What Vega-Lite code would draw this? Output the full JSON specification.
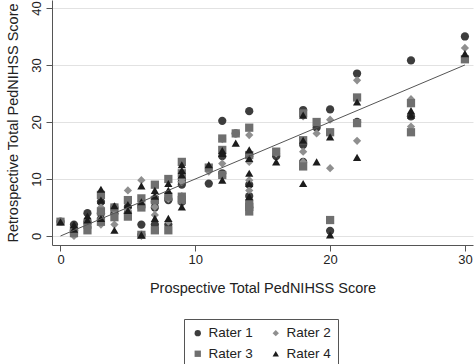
{
  "$schema": "https://vega.github.io/schema/vega-lite/v6.json",
  "width": 421,
  "height": 245,
  "autosize": {"type": "none"},
  "padding": {"left": 52, "top": 0, "right": 1, "bottom": 119},
  "background": "white",
  "config": {"view": {"stroke": null}, "font": "Liberation Sans"},
  "datasets": {
    "pts": [
      {"x":0,"y":2.5,"r":"Rater 1"},{"x":1,"y":1,"r":"Rater 1"},{"x":1,"y":2,"r":"Rater 1"},{"x":2,"y":4,"r":"Rater 1"},{"x":2,"y":2.5,"r":"Rater 1"},{"x":3,"y":6,"r":"Rater 1"},{"x":3,"y":4,"r":"Rater 1"},{"x":3,"y":3,"r":"Rater 1"},{"x":4,"y":4,"r":"Rater 1"},{"x":4,"y":5,"r":"Rater 1"},{"x":5,"y":5.1,"r":"Rater 1"},{"x":5,"y":4,"r":"Rater 1"},{"x":6,"y":5.1,"r":"Rater 1"},{"x":6,"y":2,"r":"Rater 1"},{"x":6,"y":0.2,"r":"Rater 1"},{"x":7,"y":6,"r":"Rater 1"},{"x":7,"y":5,"r":"Rater 1"},{"x":7,"y":2,"r":"Rater 1"},{"x":8,"y":6.3,"r":"Rater 1"},{"x":8,"y":6.5,"r":"Rater 1"},{"x":8,"y":2,"r":"Rater 1"},{"x":9,"y":10,"r":"Rater 1"},{"x":9,"y":9.5,"r":"Rater 1"},{"x":9,"y":6,"r":"Rater 1"},{"x":9,"y":9,"r":"Rater 1"},{"x":11,"y":9.2,"r":"Rater 1"},{"x":12,"y":20.2,"r":"Rater 1"},{"x":12,"y":14,"r":"Rater 1"},{"x":12,"y":11,"r":"Rater 1"},{"x":13,"y":18,"r":"Rater 1"},{"x":14,"y":21.9,"r":"Rater 1"},{"x":14,"y":14,"r":"Rater 1"},{"x":14,"y":9,"r":"Rater 1"},{"x":14,"y":7,"r":"Rater 1"},{"x":14,"y":5,"r":"Rater 1"},{"x":16,"y":14,"r":"Rater 1"},{"x":18,"y":22.1,"r":"Rater 1"},{"x":18,"y":16,"r":"Rater 1"},{"x":18,"y":13,"r":"Rater 1"},{"x":19,"y":19,"r":"Rater 1"},{"x":20,"y":22.2,"r":"Rater 1"},{"x":20,"y":0.9,"r":"Rater 1"},{"x":22,"y":28.5,"r":"Rater 1"},{"x":22,"y":20,"r":"Rater 1"},{"x":26,"y":30.8,"r":"Rater 1"},{"x":26,"y":21,"r":"Rater 1"},{"x":30,"y":35,"r":"Rater 1"},
      {"x":0,"y":2.5,"r":"Rater 2"},{"x":1,"y":0,"r":"Rater 2"},{"x":1,"y":1.5,"r":"Rater 2"},{"x":2,"y":2,"r":"Rater 2"},{"x":2,"y":3,"r":"Rater 2"},{"x":3,"y":5,"r":"Rater 2"},{"x":3,"y":3,"r":"Rater 2"},{"x":3,"y":2,"r":"Rater 2"},{"x":4,"y":2,"r":"Rater 2"},{"x":4,"y":4.5,"r":"Rater 2"},{"x":5,"y":8,"r":"Rater 2"},{"x":5,"y":4.5,"r":"Rater 2"},{"x":6,"y":9.8,"r":"Rater 2"},{"x":6,"y":5.5,"r":"Rater 2"},{"x":6,"y":0,"r":"Rater 2"},{"x":7,"y":6.9,"r":"Rater 2"},{"x":7,"y":5.1,"r":"Rater 2"},{"x":7,"y":3.7,"r":"Rater 2"},{"x":8,"y":7,"r":"Rater 2"},{"x":8,"y":6.5,"r":"Rater 2"},{"x":8,"y":2.5,"r":"Rater 2"},{"x":9,"y":11,"r":"Rater 2"},{"x":9,"y":10,"r":"Rater 2"},{"x":9,"y":7,"r":"Rater 2"},{"x":9,"y":9.5,"r":"Rater 2"},{"x":11,"y":11.3,"r":"Rater 2"},{"x":12,"y":17,"r":"Rater 2"},{"x":12,"y":12.7,"r":"Rater 2"},{"x":12,"y":10.5,"r":"Rater 2"},{"x":13,"y":18,"r":"Rater 2"},{"x":14,"y":17.7,"r":"Rater 2"},{"x":14,"y":13,"r":"Rater 2"},{"x":14,"y":9.8,"r":"Rater 2"},{"x":14,"y":8,"r":"Rater 2"},{"x":14,"y":4.5,"r":"Rater 2"},{"x":16,"y":14.5,"r":"Rater 2"},{"x":18,"y":21,"r":"Rater 2"},{"x":18,"y":14.8,"r":"Rater 2"},{"x":18,"y":13,"r":"Rater 2"},{"x":19,"y":18,"r":"Rater 2"},{"x":20,"y":20.4,"r":"Rater 2"},{"x":20,"y":11.9,"r":"Rater 2"},{"x":22,"y":27.3,"r":"Rater 2"},{"x":22,"y":16.7,"r":"Rater 2"},{"x":26,"y":24,"r":"Rater 2"},{"x":26,"y":19.2,"r":"Rater 2"},{"x":30,"y":33,"r":"Rater 2"},
      {"x":0,"y":2.5,"r":"Rater 3"},{"x":1,"y":0.5,"r":"Rater 3"},{"x":1,"y":1,"r":"Rater 3"},{"x":2,"y":1,"r":"Rater 3"},{"x":2,"y":2,"r":"Rater 3"},{"x":3,"y":7.2,"r":"Rater 3"},{"x":3,"y":4.3,"r":"Rater 3"},{"x":3,"y":2.5,"r":"Rater 3"},{"x":4,"y":3.3,"r":"Rater 3"},{"x":4,"y":5,"r":"Rater 3"},{"x":5,"y":6.3,"r":"Rater 3"},{"x":5,"y":3.4,"r":"Rater 3"},{"x":6,"y":6.6,"r":"Rater 3"},{"x":6,"y":5,"r":"Rater 3"},{"x":6,"y":0.2,"r":"Rater 3"},{"x":7,"y":9,"r":"Rater 3"},{"x":7,"y":6.3,"r":"Rater 3"},{"x":7,"y":1,"r":"Rater 3"},{"x":8,"y":10,"r":"Rater 3"},{"x":8,"y":6.9,"r":"Rater 3"},{"x":8,"y":1,"r":"Rater 3"},{"x":9,"y":13,"r":"Rater 3"},{"x":9,"y":11,"r":"Rater 3"},{"x":9,"y":6.9,"r":"Rater 3"},{"x":9,"y":6.3,"r":"Rater 3"},{"x":11,"y":12,"r":"Rater 3"},{"x":12,"y":17.1,"r":"Rater 3"},{"x":12,"y":15.1,"r":"Rater 3"},{"x":12,"y":10.7,"r":"Rater 3"},{"x":13,"y":18,"r":"Rater 3"},{"x":14,"y":19,"r":"Rater 3"},{"x":14,"y":14.2,"r":"Rater 3"},{"x":14,"y":5.1,"r":"Rater 3"},{"x":14,"y":5.7,"r":"Rater 3"},{"x":14,"y":4.3,"r":"Rater 3"},{"x":16,"y":14.8,"r":"Rater 3"},{"x":18,"y":21.5,"r":"Rater 3"},{"x":18,"y":16.8,"r":"Rater 3"},{"x":18,"y":12.2,"r":"Rater 3"},{"x":19,"y":20,"r":"Rater 3"},{"x":20,"y":18.2,"r":"Rater 3"},{"x":20,"y":2.8,"r":"Rater 3"},{"x":22,"y":24.3,"r":"Rater 3"},{"x":22,"y":19.8,"r":"Rater 3"},{"x":26,"y":23.3,"r":"Rater 3"},{"x":26,"y":18.2,"r":"Rater 3"},{"x":30,"y":31,"r":"Rater 3"},
      {"x":0,"y":2.5,"r":"Rater 4"},{"x":1,"y":2,"r":"Rater 4"},{"x":1,"y":1.2,"r":"Rater 4"},{"x":2,"y":2.8,"r":"Rater 4"},{"x":2,"y":3.5,"r":"Rater 4"},{"x":3,"y":8.2,"r":"Rater 4"},{"x":3,"y":6.3,"r":"Rater 4"},{"x":3,"y":3.1,"r":"Rater 4"},{"x":4,"y":1,"r":"Rater 4"},{"x":4,"y":5.3,"r":"Rater 4"},{"x":5,"y":4.5,"r":"Rater 4"},{"x":5,"y":5.5,"r":"Rater 4"},{"x":6,"y":8.8,"r":"Rater 4"},{"x":6,"y":6,"r":"Rater 4"},{"x":6,"y":0.2,"r":"Rater 4"},{"x":7,"y":8,"r":"Rater 4"},{"x":7,"y":7,"r":"Rater 4"},{"x":7,"y":3.1,"r":"Rater 4"},{"x":8,"y":9.2,"r":"Rater 4"},{"x":8,"y":8,"r":"Rater 4"},{"x":8,"y":3.1,"r":"Rater 4"},{"x":9,"y":12.5,"r":"Rater 4"},{"x":9,"y":11.5,"r":"Rater 4"},{"x":9,"y":5.1,"r":"Rater 4"},{"x":9,"y":10.7,"r":"Rater 4"},{"x":11,"y":12.5,"r":"Rater 4"},{"x":12,"y":15,"r":"Rater 4"},{"x":12,"y":14.5,"r":"Rater 4"},{"x":12,"y":9.8,"r":"Rater 4"},{"x":13,"y":16.3,"r":"Rater 4"},{"x":14,"y":15.1,"r":"Rater 4"},{"x":14,"y":13.6,"r":"Rater 4"},{"x":14,"y":11,"r":"Rater 4"},{"x":14,"y":9.2,"r":"Rater 4"},{"x":14,"y":6.9,"r":"Rater 4"},{"x":16,"y":13,"r":"Rater 4"},{"x":18,"y":21.2,"r":"Rater 4"},{"x":18,"y":16.8,"r":"Rater 4"},{"x":18,"y":9.2,"r":"Rater 4"},{"x":19,"y":13,"r":"Rater 4"},{"x":20,"y":17.4,"r":"Rater 4"},{"x":20,"y":0.2,"r":"Rater 4"},{"x":22,"y":23.5,"r":"Rater 4"},{"x":22,"y":13.8,"r":"Rater 4"},{"x":26,"y":22,"r":"Rater 4"},{"x":26,"y":21.2,"r":"Rater 4"},{"x":30,"y":32,"r":"Rater 4"}
    ],
    "fit": [{"x": 0, "y": 0}, {"x": 30, "y": 30}]
  },
  "layer": [
    {
      "data": {"name": "pts"},
      "mark": {"type": "point", "filled": true, "opacity": 1, "size": 68},
      "encoding": {
        "x": {
          "field": "x", "type": "quantitative",
          "title": "Prospective Total PedNIHSS Score",
          "scale": {"domain": [-0.63, 30.6], "nice": false, "zero": false},
          "axis": {"values": [0, 10, 20, 30], "grid": false, "titleFontSize": 14.5, "titleFontWeight": "normal", "titleColor": "#222", "titlePadding": 15, "labelFontSize": 13, "labelColor": "#222", "labelPadding": 2, "tickSize": 6, "tickColor": "#555", "domainColor": "#555"}
        },
        "y": {
          "field": "y", "type": "quantitative",
          "title": "Retrospective Total PedNIHSS Score",
          "scale": {"domain": [-1.58, 41.4], "nice": false, "zero": false},
          "axis": {"values": [0, 10, 20, 30, 40], "grid": true, "gridColor": "#e2e2e2", "labelAngle": -90, "labelAlign": "center", "labelBaseline": "bottom", "titleFontSize": 14.5, "titleFontWeight": "normal", "titleColor": "#222", "titlePadding": 10, "labelFontSize": 13, "labelColor": "#222", "labelPadding": 3, "tickSize": 6, "tickColor": "#555", "domainColor": "#555"}
        },
        "color": {
          "field": "r", "type": "nominal",
          "scale": {"domain": ["Rater 1", "Rater 2", "Rater 3", "Rater 4"], "range": ["#3d3d3d", "#8f8f8f", "#6f6f6f", "#1c1c1c"]},
          "legend": {"title": null, "orient": "none", "direction": "horizontal", "legendX": 132, "legendY": 319, "columns": 2, "strokeColor": "#555", "padding": 7, "symbolSize": 40, "labelFontSize": 13.5, "labelColor": "#222", "columnPadding": 16, "rowPadding": 6, "labelOffset": 4}
        },
        "shape": {
          "field": "r", "type": "nominal",
          "scale": {"domain": ["Rater 1", "Rater 2", "Rater 3", "Rater 4"], "range": ["circle", "diamond", "square", "triangle-up"]},
          "legend": {"title": null, "orient": "none", "direction": "horizontal", "legendX": 132, "legendY": 319, "columns": 2, "strokeColor": "#555", "padding": 7, "symbolSize": 40, "labelFontSize": 13.5, "labelColor": "#222", "columnPadding": 16, "rowPadding": 6, "labelOffset": 4}
        }
      }
    },
    {
      "data": {"name": "fit"},
      "mark": {"type": "line", "color": "#555", "strokeWidth": 1},
      "encoding": {
        "x": {"field": "x", "type": "quantitative", "title": "Prospective Total PedNIHSS Score"},
        "y": {"field": "y", "type": "quantitative", "title": "Retrospective Total PedNIHSS Score"}
      }
    }
  ]
}
